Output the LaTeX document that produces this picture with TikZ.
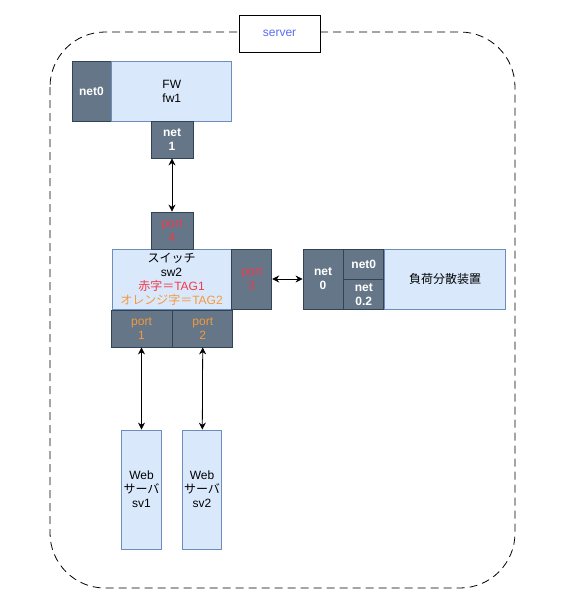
\documentclass[tikz,border=0pt]{standalone}
\usepackage{fontspec}
\setmainfont{Liberation Sans}
\newfontfamily\cjk{Noto Sans CJK JP}
\usepackage{tikz}
\usetikzlibrary{arrows.meta,positioning}
\definecolor{slatefill}{HTML}{647687}
\definecolor{slateline}{HTML}{314354}
\definecolor{bluefill}{HTML}{DAE8FC}
\definecolor{blueline}{HTML}{6C8EBF}
\definecolor{tagred}{HTML}{F23A4A}
\definecolor{tagorange}{HTML}{F5993C}
\definecolor{srvblue}{HTML}{5A6EF0}
\tikzset{>/.tip={Stealth[length=7pt,width=7pt]}}
\tikzset{
  iface/.style={draw=slateline,fill=slatefill,text=white,line width=0.8pt,
    inner sep=0pt,align=center,font=\fontsize{12}{14}\selectfont\bfseries},
  port/.style={iface,font=\fontsize{12}{14}\selectfont},
  unit/.style={draw=blueline,fill=bluefill,line width=0.8pt,inner sep=0pt,
    align=center},
  link/.style={<->,line width=0.8pt}
}
\begin{document}
\begin{tikzpicture}[x=1pt,y=-1pt,font=\fontsize{12}{14}\selectfont,node distance=0pt]
        \useasboundingbox (0,0) rectangle (565,597);
        \draw[line width=0.8pt,dash pattern=on 8pt off 5pt,rounded corners=55]
          (50,32) rectangle (515,588);
        \node(server)[draw,fill=white,line width=0.8pt,minimum width=81pt,minimum height=37pt,
          text=srvblue] at (279.5,33.5){server};
        % firewall
        \node(fwnet0)[iface,minimum width=39pt,minimum height=60pt] at (91.5,91){net0};
        \node(fw)[unit,minimum width=120pt,minimum height=60pt,right=of fwnet0]{FW\\fw1};
        \node(fwnet1)[iface,minimum width=42pt,minimum height=37pt] at (172,139.5){net\\1};
        % switch
        \node(sw)[unit,minimum width=119pt,minimum height=60pt] at (171.5,279)
          {{\cjk スイッチ}\\sw2\\\textcolor{tagred}{{\cjk 赤字＝}TAG1}\\
           \textcolor{tagorange}{{\cjk オレンジ字＝}TAG2}};
        \node(port4)[port,text=tagred,minimum width=42pt,minimum height=37pt] at (172,230.5){port\\4};
        \node(port3)[port,text=tagred,minimum width=40pt,minimum height=60pt,right=of sw]{port\\3};
        \node(port1)[port,text=tagorange,minimum width=61pt,minimum height=37pt] at (141.5,328.5){port\\1};
        \node(port2)[port,text=tagorange,minimum width=60pt,minimum height=37pt,right=of port1]{port\\2};
        % load balancer
        \node(lbnet0)[iface,minimum width=40pt,minimum height=60pt] at (323,279){net\\0};
        \node(lbnet1)[iface,minimum width=40pt,minimum height=30pt,anchor=north west]
          at (lbnet0.north east){net0};
        \node(lbnet2)[iface,minimum width=40pt,minimum height=30pt,below=of lbnet1]{net\\0.2};
        \node(lb)[unit,minimum width=121pt,minimum height=60pt,anchor=north west]
          at (lbnet1.north east){\cjk 負荷分散装置};
        % web servers
        \node(sv1)[unit,minimum width=40pt,minimum height=119pt] at (141.5,489.5){Web\\{\cjk サーバ}\\sv1};
        \node(sv2)[unit,minimum width=39pt,minimum height=119pt] at (202,489.5){Web\\{\cjk サーバ}\\sv2};
        \draw[link] (fwnet1) -- (port4);
        \draw[link] (port3) -- (lbnet0);
        \draw[link] (port1) -- (sv1);
        \draw[link] (port2) -- (sv2);
      \end{tikzpicture}
\end{document}
